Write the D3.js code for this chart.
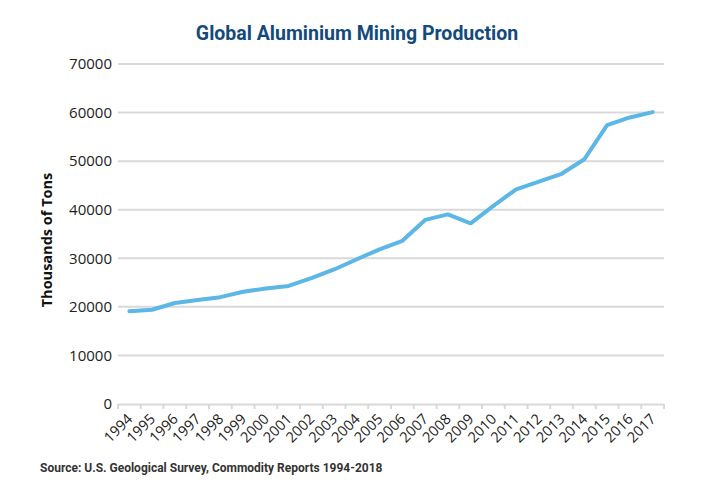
<!DOCTYPE html>
<html>
<head>
<meta charset="utf-8">
<script src="https://cdn.jsdelivr.net/npm/d3@7"></script>
<style>
  body { margin: 0; background: #fff; }
  svg { display: block; }
</style>
</head>
<body>
<script>
(function (d3) {
    "use strict";

    /***** Data *****/
    var years = ["1994", "1995", "1996", "1997", "1998", "1999", "2000", "2001",
        "2002", "2003", "2004", "2005", "2006", "2007", "2008", "2009", "2010",
        "2011", "2012", "2013", "2014", "2015", "2016", "2017"];
    var production = [19100, 19400, 20800, 21400, 22000, 23100, 23800, 24300,
        25900, 27700, 29800, 31850, 33600, 37900, 39050, 37200, 40800,
        44200, 45800, 47400, 50400, 57400, 59000, 60100];
    var yTicks = [0, 10000, 20000, 30000, 40000, 50000, 60000, 70000];

    /***** Configuration *****/
    var width = 720, height = 500;
    var margin = { top: 64, right: 56, bottom: 96, left: 118 };
    var plotWidth = width - margin.left - margin.right;
    var plotHeight = height - margin.top - margin.bottom;

    var xScale = d3.scaleBand().domain(years).range([0, plotWidth]);
    var yScale = d3.scaleLinear().domain([0, 70000]).range([plotHeight, 0]);

    var svg = d3.select("body").append("svg")
        .attr("width", width)
        .attr("height", height);

    svg.append("text")
        .attr("x", 357)
        .attr("y", 40)
        .attr("text-anchor", "middle")
        .style("font-family", "Roboto, sans-serif")
        .style("font-weight", "bold")
        .style("font-size", "19.5px")
        .style("fill", "#134a7c")
        .text("Global Aluminium Mining Production");

    var g = svg.append("g")
        .attr("transform", "translate(" + margin.left + "," + margin.top + ")");

    // gridlines
    g.append("g")
        .selectAll("line")
        .data(yTicks.filter(function (d) { return d > 0; }))
        .enter().append("line")
        .attr("x1", 0)
        .attr("x2", plotWidth)
        .attr("y1", function (d) { return yScale(d); })
        .attr("y2", function (d) { return yScale(d); })
        .attr("stroke", "#d9d9d9")
        .attr("stroke-width", 2);

    // y axis labels
    var yAxis = d3.axisLeft(yScale).tickValues(yTicks).tickSize(0).tickPadding(6)
        .tickFormat(d3.format("d"));
    var yAxisG = g.append("g").call(yAxis);
    yAxisG.select(".domain").remove();
    yAxisG.selectAll("text")
        .style("font-family", "'Open Sans', sans-serif")
        .style("font-size", "15px")
        .style("fill", "#222");

    // x axis
    var xAxis = d3.axisBottom(xScale).tickSize(0).tickPadding(0);
    var xAxisG = g.append("g")
        .attr("transform", "translate(0," + plotHeight + ")")
        .call(xAxis);
    xAxisG.select(".domain")
        .attr("stroke", "#d9d9d9")
        .attr("stroke-width", 2);
    xAxisG.selectAll(".tick line").remove();
    xAxisG.selectAll(".tick text")
        .attr("text-anchor", "end")
        .attr("dy", "0")
        .attr("transform", "translate(4,16) rotate(-45)")
        .style("font-family", "'Open Sans', sans-serif")
        .style("font-size", "14.5px")
        .style("fill", "#222");

    // boundary ticks
    g.append("g")
        .selectAll("line")
        .data(years.concat(["end"]))
        .enter().append("line")
        .attr("x1", function (d, i) { return i * xScale.step(); })
        .attr("x2", function (d, i) { return i * xScale.step(); })
        .attr("y1", plotHeight)
        .attr("y2", plotHeight + 5)
        .attr("stroke", "#d9d9d9")
        .attr("stroke-width", 2);

    // line
    var line = d3.line()
        .x(function (d, i) { return xScale(years[i]) + xScale.bandwidth() / 2; })
        .y(function (d) { return yScale(d); });

    g.append("path")
        .datum(production)
        .attr("d", line)
        .attr("fill", "none")
        .attr("stroke", "#5cb6e6")
        .attr("stroke-width", 4)
        .attr("stroke-linejoin", "round")
        .attr("stroke-linecap", "round");

    // y axis title
    svg.append("text")
        .attr("transform", "translate(52," + (margin.top + plotHeight / 2 + 6) + ") rotate(-90)")
        .attr("text-anchor", "middle")
        .style("font-family", "'Open Sans', sans-serif")
        .style("font-weight", "bold")
        .style("font-size", "14.5px")
        .style("fill", "#111")
        .text("Thousands of Tons");

    // source
    svg.append("text")
        .attr("x", 40)
        .attr("y", 472)
        .style("font-family", "Roboto, sans-serif")
        .style("font-weight", "bold")
        .style("font-size", "12px")
        .style("fill", "#333")
        .text("Source: U.S. Geological Survey, Commodity Reports 1994-2018");

})(d3);
</script>
</body>
</html>
